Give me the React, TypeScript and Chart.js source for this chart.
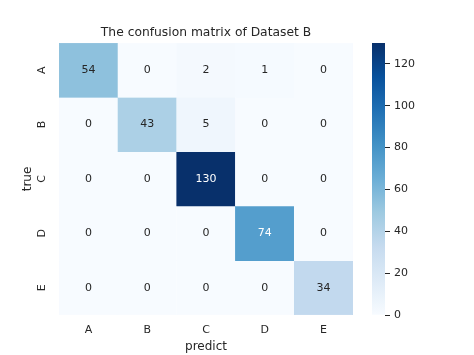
import React, { useEffect, useRef } from "react";
import { Chart, registerables } from "chart.js";

Chart.register(...registerables);

const predictLabels = ["A", "B", "C", "D", "E"];
const trueLabels = ["A", "B", "C", "D", "E"];
const rowA = [54, 0, 2, 1, 0];
const rowB = [0, 43, 5, 0, 0];
const rowC = [0, 0, 130, 0, 0];
const rowD = [0, 0, 0, 74, 0];
const rowE = [0, 0, 0, 0, 34];
const matrix = [rowA, rowB, rowC, rowD, rowE];
const colorbarTicks = [0, 20, 40, 60, 80, 100, 120];
const vmin = 0;
const vmax = 130;

const BLUES = [
  [247, 251, 255],
  [222, 235, 247],
  [198, 219, 239],
  [158, 202, 225],
  [107, 174, 214],
  [66, 146, 198],
  [33, 113, 181],
  [8, 81, 156],
  [8, 48, 107],
];

function blues(t: number): number[] {
  const x = Math.max(0, Math.min(1, t)) * (BLUES.length - 1);
  const i = Math.min(BLUES.length - 2, Math.floor(x));
  const f = x - i;
  const a = BLUES[i];
  const b = BLUES[i + 1];
  return [0, 1, 2].map((k) => Math.round(a[k] + (b[k] - a[k]) * f));
}
function bluesCss(t: number): string {
  const c = blues(t);
  return `rgb(${c[0]},${c[1]},${c[2]})`;
}
function textColorFor(t: number): string {
  const c = blues(t).map((v) => {
    const s = v / 255;
    return s <= 0.03928 ? s / 12.92 : Math.pow((s + 0.055) / 1.055, 2.4);
  });
  const lum = 0.2126 * c[0] + 0.7152 * c[1] + 0.0722 * c[2];
  return lum > 0.408 ? "#262626" : "#ffffff";
}

const FONT = "'DejaVu Sans', sans-serif";
const TEXT = "#262626";

export default function App() {
  const heatRef = useRef<HTMLCanvasElement | null>(null);
  const barRef = useRef<HTMLCanvasElement | null>(null);

  useEffect(() => {
    const norm = (v: number) => (v - vmin) / (vmax - vmin);

    const annotate = {
      id: "annotate",
      afterDatasetsDraw(chart: any) {
        const ctx = chart.ctx;
        ctx.save();
        ctx.font = `11px ${FONT}`;
        ctx.textAlign = "center";
        ctx.textBaseline = "middle";
        chart.data.datasets.forEach((ds: any, i: number) => {
          const meta = chart.getDatasetMeta(i);
          meta.data.forEach((el: any, j: number) => {
            const v = matrix[i][j];
            const p = el.getCenterPoint();
            ctx.fillStyle = textColorFor(norm(v));
            ctx.fillText(String(v), p.x, p.y);
          });
        });
        ctx.restore();
      },
    };

    const heat = new Chart(heatRef.current!, {
      type: "bar",
      data: {
        labels: predictLabels,
        datasets: matrix.map((row, i) => ({
          label: trueLabels[i],
          data: row.map(() => [i - 0.5, i + 0.5]) as any,
          backgroundColor: row.map((v) => bluesCss(norm(v))),
          borderColor: row.map((v) => bluesCss(norm(v))),
          borderWidth: 0.5,
          borderSkipped: false,
          barPercentage: 1,
          categoryPercentage: 1,
        })),
      },
      options: {
        responsive: false,
        animation: false,
        layout: { padding: { left: 0, right: 59, top: 0, bottom: 0 } },
        plugins: {
          legend: { display: false },
          tooltip: { enabled: false },
          title: {
            display: true,
            fullSize: false,
            text: "The confusion matrix of Dataset B",
            color: TEXT,
            font: { family: FONT, size: 12.3, weight: "normal" },
            padding: { top: 25, bottom: 3.2 },
          },
        },
        scales: {
          x: {
            type: "category",
            stacked: true,
            grid: { display: false, drawTicks: false },
            border: { display: false },
            ticks: { color: TEXT, font: { family: FONT, size: 11 }, padding: 9 },
            title: {
              display: true,
              text: "predict",
              color: TEXT,
              font: { family: FONT, size: 12 },
              padding: { top: 0, bottom: 1 },
            },
            afterFit(scale: any) {
              scale.height = 40;
            },
          },
          y: {
            type: "linear",
            min: -0.5,
            max: 4.5,
            reverse: true,
            grid: { display: false, drawTicks: false },
            border: { display: false },
            afterBuildTicks(scale: any) {
              scale.ticks = trueLabels.map((_, i) => ({ value: i }));
            },
            ticks: {
              color: TEXT,
              font: { family: FONT, size: 11 },
              minRotation: 90,
              maxRotation: 90,
              crossAlign: "center",
              padding: 13,
              callback: (v: any) => trueLabels[v] ?? "",
            },
            title: {
              display: true,
              text: "true",
              color: TEXT,
              font: { family: FONT, size: 12 },
              padding: { top: 21, bottom: 0 },
            },
            afterFit(scale: any) {
              scale.width = 59;
            },
          },
        },
      },
      plugins: [annotate],
    } as any);

    const bar = new Chart(barRef.current!, {
      type: "bar",
      data: {
        labels: [""],
        datasets: [
          {
            data: [[vmin, vmax]] as any,
            backgroundColor: (c: any) => {
              const area = c.chart.chartArea;
              if (!area) return "rgb(247,251,255)";
              const g = c.chart.ctx.createLinearGradient(0, area.bottom, 0, area.top);
              BLUES.forEach((col, k) => {
                g.addColorStop(k / (BLUES.length - 1), `rgb(${col[0]},${col[1]},${col[2]})`);
              });
              return g;
            },
            borderWidth: 0,
            barPercentage: 1,
            categoryPercentage: 1,
          },
        ],
      },
      options: {
        responsive: false,
        animation: false,
        layout: { padding: { left: 12, right: 0, top: 43, bottom: 40 } },
        plugins: {
          legend: { display: false },
          tooltip: { enabled: false },
          title: { display: false },
        },
        scales: {
          x: { display: false },
          y: {
            position: "right",
            min: vmin,
            max: vmax,
            afterBuildTicks(scale: any) {
              scale.ticks = colorbarTicks.map((v) => ({ value: v }));
            },
            grid: {
              drawOnChartArea: false,
              drawTicks: true,
              tickLength: 5,
              tickColor: TEXT,
              tickWidth: 1,
            },
            border: { display: false },
            ticks: { color: TEXT, font: { family: FONT, size: 11 }, padding: 4 },
            afterFit(scale: any) {
              scale.width = 89;
            },
          },
        },
      },
    } as any);

    return () => {
      heat.destroy();
      bar.destroy();
    };
  }, []);

  return (
    <div
      style={{
        position: "fixed",
        left: 0,
        top: 0,
        width: 474,
        height: 355,
        background: "#ffffff",
      }}
    >
      <canvas
        ref={heatRef}
        width={412}
        height={355}
        style={{ position: "absolute", left: 0, top: 0, width: 412, height: 355 }}
      />
      <canvas
        ref={barRef}
        width={114}
        height={355}
        style={{ position: "absolute", left: 360, top: 0, width: 114, height: 355 }}
      />
    </div>
  );
}
